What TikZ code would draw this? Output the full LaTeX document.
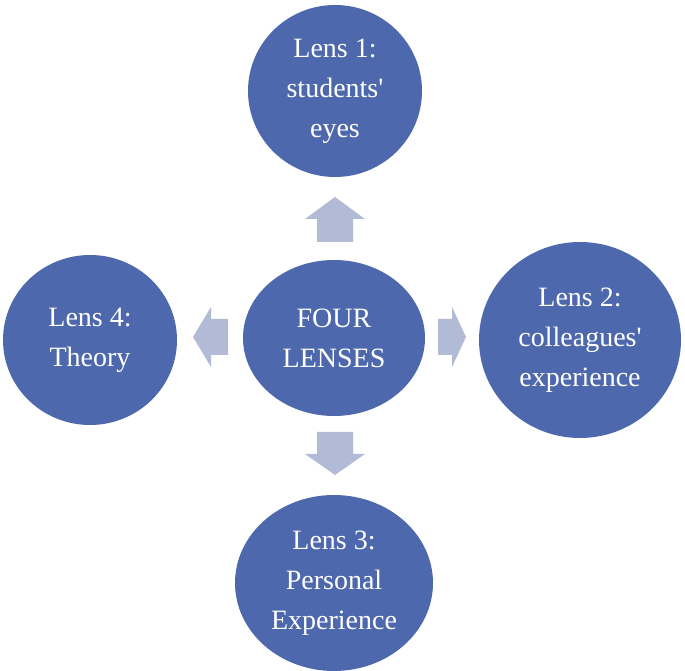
\documentclass[tikz,border=0pt]{standalone}
\usepackage{fontspec}
\setmainfont{Liberation Serif}
\usetikzlibrary{shapes.geometric}
\definecolor{lensblue}{RGB}{78,104,173}
\definecolor{arrowgrey}{RGB}{178,187,214}
\tikzset{
  lens/.style={ellipse, fill=lensblue, text=white, inner sep=0pt, align=center,
    font=\fontsize{28}{40}\selectfont},
  blockarrow/.style={fill=arrowgrey}
}
\newcommand\lensarrow[4]{% base point, rotation, length, head depth
  \fill[blockarrow, shift={#1}, rotate=#2]
    (0,-18) -- ({#3-#4},-18) -- ({#3-#4},-30) -- (#3,0) -- ({#3-#4},30)
    -- ({#3-#4},18) -- (0,18) -- cycle;}
\begin{document}
\begin{tikzpicture}[x=1pt,y=1pt]
\useasboundingbox (0,0) rectangle (685,671);
\node[lens, minimum width=174pt, minimum height=172pt] (l1) at (335,580) {Lens 1:\\ students\textquotesingle\\ eyes};
\node[lens, minimum width=174pt, minimum height=170pt] (l4) at (90,331) {Lens 4:\\ Theory};
\node[lens, minimum width=182pt, minimum height=156pt] (c) at (334,333) {FOUR\\ LENSES};
\node[lens, minimum width=202pt, minimum height=196pt] (l2) at (580,331) {Lens 2:\\ colleagues\textquotesingle\\ experience};
\node[lens, minimum width=198pt, minimum height=176pt] (l3) at (334,88) {Lens 3:\\ Personal\\ Experience};
% block arrows
\coordinate (au) at (335,429);
\coordinate (ad) at (335,239);
\coordinate (al) at (228,334);
\coordinate (ar) at (438,334);
\lensarrow{(au)}{90}{45}{22}
\lensarrow{(ad)}{-90}{43}{21}
\lensarrow{(al)}{180}{35}{18}
\lensarrow{(ar)}{0}{28}{14}
\end{tikzpicture}
\end{document}
